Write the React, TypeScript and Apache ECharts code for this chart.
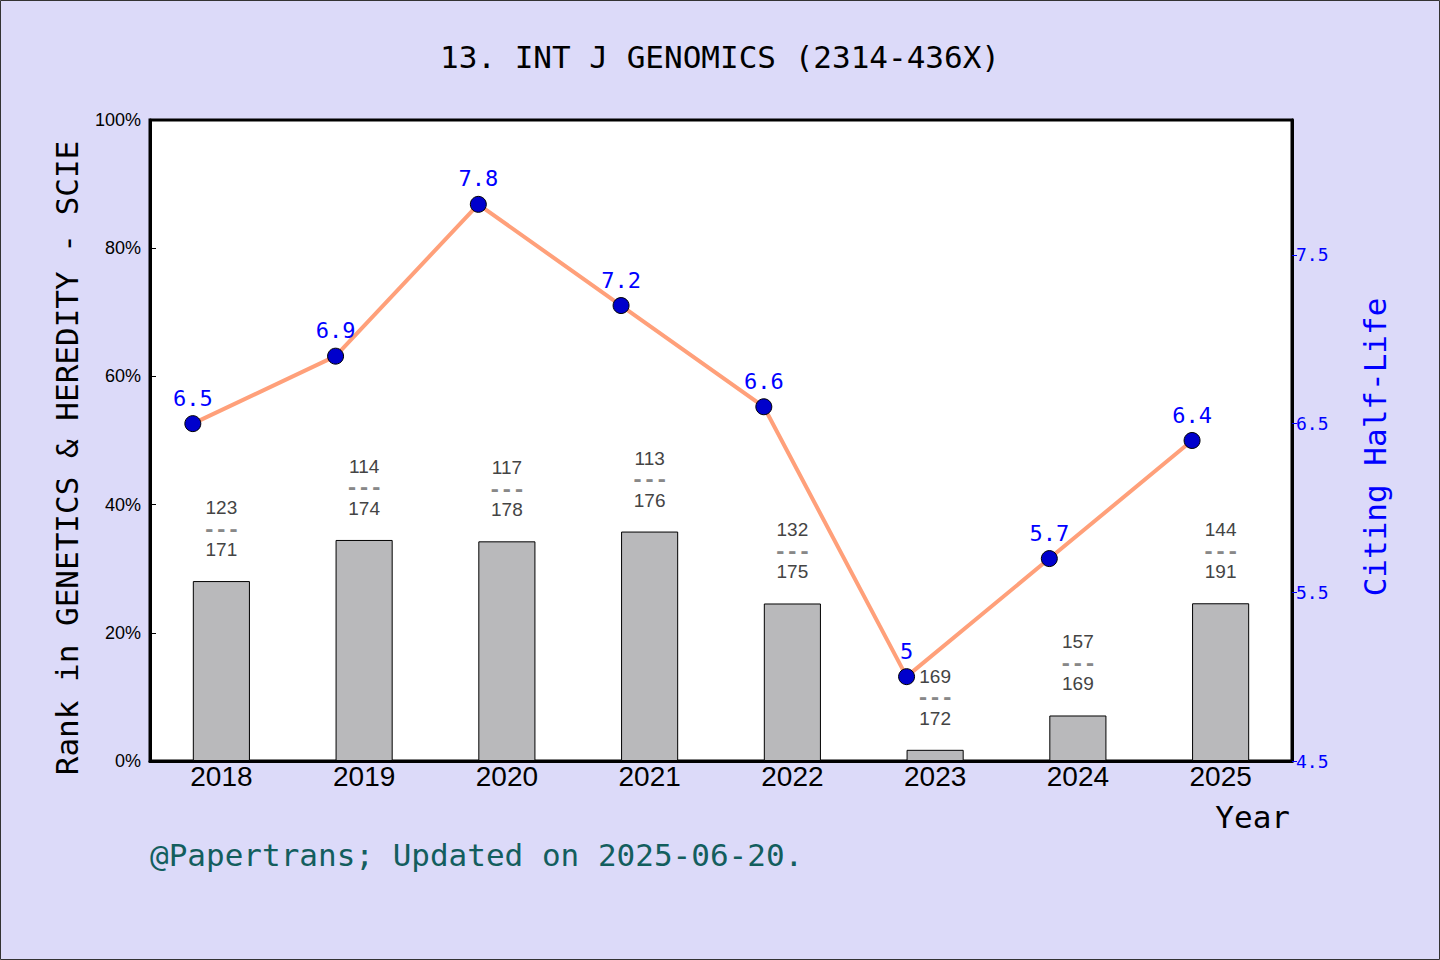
import React, { useEffect, useRef } from "react";
import * as echarts from "echarts";

const years = ["2018", "2019", "2020", "2021", "2022", "2023", "2024", "2025"];
const ranks = [123, 114, 117, 113, 132, 169, 157, 144];
const totals = [171, 174, 178, 176, 175, 172, 169, 191];
const halfLife = [6.5, 6.9, 7.8, 7.2, 6.6, 5, 5.7, 6.4];
const leftTicks = { min: 0, max: 100, interval: 20 };
const rightTicks = { min: 4.5, max: 8.3, interval: 1 };

const TITLE = "13. INT J GENOMICS (2314-436X)";
const LEFT_NAME = "Rank in GENETICS & HEREDITY - SCIE";
const RIGHT_NAME = "Citing Half-Life";
const X_NAME = "Year";
const FOOTER = "@Papertrans; Updated on 2025-06-20.";

const MONO = "'DejaVu Sans Mono', 'Liberation Mono', monospace";
const SANS = "'Liberation Sans', Arial, sans-serif";

export default function App() {
  const ref = useRef<HTMLDivElement>(null);
  useEffect(() => {
    document.body.style.margin = "0";
    const chart = echarts.init(ref.current!, null, { renderer: "svg" });
    const barValues = ranks.map((r, i) => (1 - r / totals[i]) * 100);
    const option: any = {
      animation: false,
      backgroundColor: "#dcdaf9",
      grid: {
        left: 150,
        right: 148,
        top: 120,
        bottom: 199,
        show: true,
        backgroundColor: "#ffffff",
        borderColor: "#000",
        borderWidth: 3,
      },
      xAxis: [
        {
          type: "category",
          data: years,
          boundaryGap: true,
          axisLine: { lineStyle: { color: "#000", width: 3 } },
          axisTick: { inside: true, length: 6, lineStyle: { color: "#000", width: 1 } },
          axisLabel: { color: "#000", fontSize: 28, fontFamily: SANS, margin: 1 },
        },
        { type: "value", min: 0, max: 8, show: false },
      ],
      yAxis: [
        {
          type: "value",
          min: leftTicks.min,
          max: leftTicks.max,
          interval: leftTicks.interval,
          position: "left",
          splitLine: { show: false },
          axisLine: { show: true, lineStyle: { color: "#000", width: 3 } },
          axisTick: { show: true, inside: true, length: 6, lineStyle: { color: "#000", width: 1 } },
          axisLabel: { color: "#000", fontSize: 18, fontFamily: SANS, margin: 9, formatter: "{value}%" },
        },
        {
          type: "value",
          min: rightTicks.min,
          max: rightTicks.max,
          interval: rightTicks.interval,
          position: "right",
          splitLine: { show: false },
          axisLine: { show: true, lineStyle: { color: "#000", width: 3 } },
          axisTick: { show: true, inside: false, length: 5, lineStyle: { color: "#0000ff", width: 1 } },
          axisLabel: {
            color: "#0000ff",
            fontSize: 18,
            fontFamily: MONO,
            margin: 4,
            showMaxLabel: false,
            formatter: (v: number) => v.toFixed(1),
          },
        },
      ],
      series: [
        {
          type: "bar",
          data: barValues,
          barWidth: "40%",
          itemStyle: { color: "#b9b9bb", borderColor: "#000", borderWidth: 1 },
          label: {
            show: true,
            position: "top",
            distance: 21,
            formatter: (p: any) => `{a|${ranks[p.dataIndex]}}\n{b|---}\n{a|${totals[p.dataIndex]}}`,
            rich: {
              a: { fontSize: 19, fontFamily: SANS, color: "#444", lineHeight: 21 },
              b: { fontSize: 20, fontFamily: MONO, color: "#888", lineHeight: 21, fontWeight: "bold" },
            },
          },
          z: 2,
        },
        {
          type: "line",
          xAxisIndex: 1,
          yAxisIndex: 1,
          data: halfLife.map((v, i) => [i + 0.3, v]),
          symbol: "circle",
          symbolSize: 16,
          lineStyle: { color: "#ffa07a", width: 4 },
          itemStyle: { color: "#0000cc", borderColor: "#000", borderWidth: 1 },
          label: {
            show: true,
            position: "top",
            distance: 6,
            color: "#0000ff",
            fontSize: 22,
            fontFamily: MONO,
            formatter: (p: any) => String(p.value[1]),
          },
          z: 3,
        },
      ],
      graphic: [
        {
          type: "rect",
          shape: { x: 0.5, y: 0.5, width: 1439, height: 959 },
          style: { fill: "none", stroke: "#333", lineWidth: 1 },
          silent: true,
        },
        {
          type: "text",
          x: 720,
          y: 57,
          style: { text: TITLE, fill: "#000", font: `31px ${MONO}`, align: "center", verticalAlign: "middle" },
        },
        {
          type: "text",
          x: 67,
          y: 458,
          rotation: Math.PI / 2,
          style: { text: LEFT_NAME, fill: "#000", font: `31px ${MONO}`, align: "center", verticalAlign: "middle" },
        },
        {
          type: "text",
          x: 1375,
          y: 447,
          rotation: Math.PI / 2,
          style: { text: RIGHT_NAME, fill: "#0000ff", font: `31px ${MONO}`, align: "center", verticalAlign: "middle" },
        },
        {
          type: "text",
          x: 1290,
          y: 817,
          style: { text: X_NAME, fill: "#000", font: `31px ${MONO}`, align: "right", verticalAlign: "middle" },
        },
        {
          type: "text",
          x: 150,
          y: 855,
          style: { text: FOOTER, fill: "#135e5e", font: `31px ${MONO}`, align: "left", verticalAlign: "middle" },
        },
      ],
    };
    chart.setOption(option);
    return () => chart.dispose();
  }, []);
  return <div ref={ref} style={{ width: 1440, height: 960 }} />;
}
